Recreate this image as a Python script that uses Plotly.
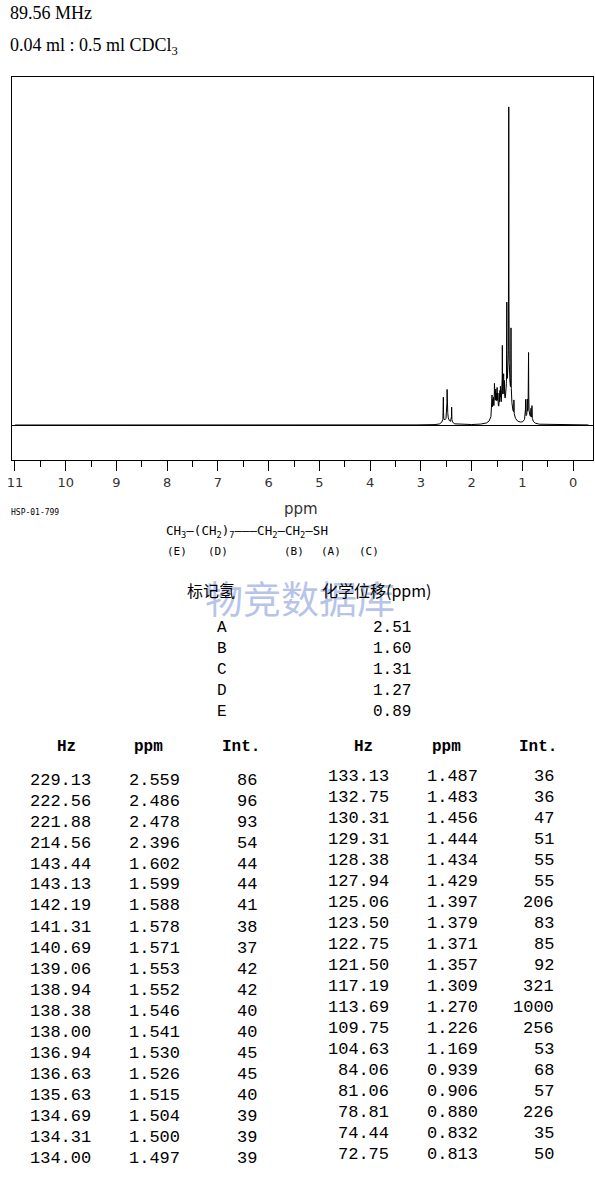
import numpy as np
import plotly.graph_objects as go

W, H = 595, 1191
hz = [229.13,222.56,221.88,214.56,143.44,143.13,142.19,141.31,140.69,139.06,138.94,138.38,138.00,136.94,136.63,135.63,134.69,134.31,134.00,
      133.13,132.75,130.31,129.31,128.38,127.94,125.06,123.50,122.75,121.50,117.19,113.69,109.75,104.63,84.06,81.06,78.81,74.44,72.75]
ppm = [2.559,2.486,2.478,2.396,1.602,1.599,1.588,1.578,1.571,1.553,1.552,1.546,1.541,1.530,1.526,1.515,1.504,1.500,1.497,
       1.487,1.483,1.456,1.444,1.434,1.429,1.397,1.379,1.371,1.357,1.309,1.270,1.226,1.169,0.939,0.906,0.880,0.832,0.813]
intens = [86,96,93,54,44,44,41,38,37,42,42,40,40,45,45,40,39,39,39,
          36,36,47,51,55,55,206,83,85,92,321,1000,256,53,68,57,226,35,50]
labels = ["A","B","C","D","E"]
shifts = ["2.51","1.60","1.31","1.27","0.89"]

# spectrum from peak list (narrow + broad Lorentzian line shape)
x = np.linspace(-0.3, 11.0, 16000)
y = np.zeros_like(x)
for p, a in zip(ppm, intens):
    y += a * (0.85 / (1 + ((x - p) / 0.0025) ** 2) + 0.12 / (1 + ((x - p) / 0.035) ** 2))
y *= 1000 / y.max()

fig = go.Figure(go.Scatter(x=x, y=y, mode="lines", line=dict(color="black", width=1), hoverinfo="skip"))

def py(pix):
    return 1 - pix / H

fig.update_layout(
    width=W, height=H, margin=dict(l=0, r=0, t=0, b=0),
    paper_bgcolor="white", plot_bgcolor="white", showlegend=False,
    xaxis=dict(domain=[7/W, 593/W], range=[11.06, -0.39], tickmode="linear", tick0=0, dtick=1,
               ticks="outside", ticklen=10, tickcolor="black", showgrid=False, zeroline=False,
               showline=True, linecolor="black", mirror=True,
               tickfont=dict(family="DejaVu Sans", size=13, color="#333"),
               minor=dict(dtick=0.5, ticks="outside", ticklen=6, tickcolor="black")),
    yaxis=dict(domain=[py(460), py(77)], range=[-110, 1094], showticklabels=False, ticks="",
               showgrid=False, zeroline=True, zerolinecolor="black", zerolinewidth=1, showline=True,
               linecolor="black", mirror=True),
)

ann = []
def t(xp, yp, text, size=14, fam="Liberation Serif", anchor="left", color="black", bold=False):
    if bold:
        text = "<b>" + text + "</b>"
    ann.append(dict(x=xp / W, y=py(yp), xref="paper", yref="paper", text=text, showarrow=False,
                    xanchor=anchor, yanchor="middle", font=dict(family=fam, size=size, color=color)))

t(3, 13, "89.56 MHz", 18)
t(3, 47, "0.04 ml : 0.5 ml CDCl<sub>3</sub>", 18)
t(299, 509, "ppm", 15, "DejaVu Sans", "center", "#333")
t(4, 512, "HSP-01-799", 8, "DejaVu Sans Mono")
t(160, 531, "CH<sub>3</sub>—(CH<sub>2</sub>)<sub>7</sub>———CH<sub>2</sub>—CH<sub>2</sub>—SH", 12.5, "DejaVu Sans Mono")
for xl, lab in [(161, "(E)"), (203, "(D)"), (279, "(B)"), (317, "(A)"), (355, "(C)")]:
    t(xl, 551, lab, 11, "DejaVu Sans Mono")
t(298, 596, "物竞数据库", 38, "Noto Sans CJK SC", "center", "rgba(150,170,225,0.7)")
t(182, 590, "标记氢", 16, "Noto Sans CJK SC")
t(318, 590, "化学位移(ppm)", 16, "Noto Sans CJK SC")
for i, (l, s) in enumerate(zip(labels, shifts)):
    yy = 628 + 21 * i
    t(212, yy, l, 16, "Liberation Mono")
    t(411, yy, s, 16, "Liberation Mono", "right")

mono = "Liberation Mono"
for xh, lab in [(62, "Hz"), (145, "ppm"), (238, "Int."), (362, "Hz"), (445, "ppm"), (538, "Int.")]:
    t(xh, 747, lab, 16, mono, "center", bold=True)
n = 19
for i in range(len(ppm)):
    if i < n:
        yy = 780 + 21 * i; cx = (89, 179, 256)
    else:
        yy = 776 + 21 * (i - n); cx = (389, 479, 556)
    t(cx[0], yy, f"{hz[i]:.2f}", 17, mono, "right")
    t(cx[1], yy, f"{ppm[i]:.3f}", 17, mono, "right")
    t(cx[2], yy, f"{intens[i]}", 17, mono, "right")

fig.update_layout(annotations=ann)
fig.write_html("out.html", config={"displayModeBar": False},
               post_script="document.body.style.margin='0';document.body.style.overflow='hidden';")
